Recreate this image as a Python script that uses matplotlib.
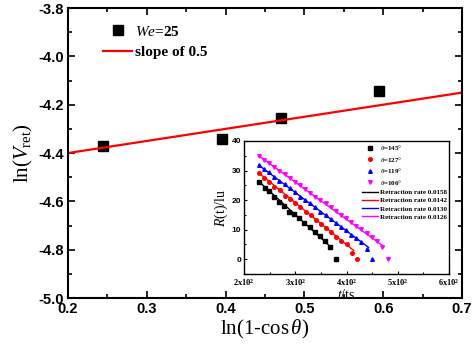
import matplotlib.pyplot as plt
import matplotlib.ticker as ticker

plt.rcParams["font.family"] = "Liberation Sans"
plt.rcParams["mathtext.fontset"] = "custom"
plt.rcParams["mathtext.rm"] = "Liberation Serif"
plt.rcParams["mathtext.it"] = "Liberation Serif:italic"
plt.rcParams["mathtext.bf"] = "Liberation Serif:bold"

# main panel: ln(V_ret) against ln(1 - cos theta)
x_pts = [0.245, 0.395, 0.470, 0.595]
y_pts = [-4.37, -4.34, -4.255, -4.145]
slope_x = [0.2, 0.7]
slope_y = [-4.40, -4.15]

# inset: R(t)/lu against t/ts for four contact angles
angles = ["145", "127", "119", "106"]
rates = [0.0158, 0.0142, 0.0130, 0.0126]
colors = ["black", "red", "blue", "magenta"]
markers = ["s", "o", "^", "v"]

t_145 = [229, 240, 249, 259, 268, 278, 288, 297, 307, 318, 328, 338, 348, 358, 368, 379]
r_145 = [26.0, 24.2, 23.2, 21.2, 19.2, 18.0, 16.1, 15.2, 13.9, 12.2, 11.0, 9.2, 8.0, 6.0, 4.1, 0]

t_127 = [229, 239, 249, 259, 270, 280, 290, 300, 310, 320, 330, 340, 350, 360, 370, 380,
         390, 400, 410, 420]
r_127 = [29.0, 27.4, 26.2, 24.6, 23.3, 21.5, 20.4, 19.0, 17.6, 16.1, 14.9, 13.2, 12.0, 10.4,
         9.2, 7.5, 6.2, 5.0, 2.2, 0]

t_119 = [229, 239, 249, 259, 269, 279, 289, 299, 309, 319, 329, 339, 349, 359, 369, 379,
         389, 399, 409, 419, 429, 439, 449]
r_119 = [32.0, 30.4, 29.4, 27.8, 26.6, 25.3, 24.0, 22.8, 21.2, 20.2, 18.9, 17.5, 16.1, 15.0,
         13.5, 12.3, 11.0, 9.8, 8.2, 7.1, 5.8, 3.6, 0]

t_106 = [229, 239, 249, 259, 269, 279, 289, 299, 309, 319, 329, 339, 349, 359, 369, 379,
         389, 399, 409, 419, 429, 439, 449, 459, 469, 480]
r_106 = [35.0, 33.6, 32.4, 31.2, 29.8, 28.8, 27.4, 26.2, 25.0, 23.8, 22.4, 21.2, 20.0, 18.9,
         17.6, 16.2, 15.1, 13.8, 12.6, 11.3, 10.1, 8.8, 7.6, 6.2, 4.0, 0]

t_data = [t_145, t_127, t_119, t_106]
r_data = [r_145, r_127, r_119, r_106]
fit_start = [26.3, 29.2, 31.8, 35.0]
fit_t = [(229, 372), (229, 414), (229, 443), (229, 473)]

fig = plt.figure(figsize=(4.74, 3.49), dpi=100)
ax = fig.add_axes([0.1435, 0.146, 0.831, 0.831])

ax.plot(x_pts, y_pts, "s", color="black", markersize=7.5, label=r"$\mathbf{\mathit{We}}$=25")
ax.plot(slope_x, slope_y, "-", color="red", linewidth=1.6, label="slope of 0.5")

ax.set_xlim(0.2, 0.7)
ax.set_ylim(-5.0, -3.8)
ax.xaxis.set_major_locator(ticker.MultipleLocator(0.1))
ax.xaxis.set_minor_locator(ticker.MultipleLocator(0.05))
ax.yaxis.set_major_locator(ticker.MultipleLocator(0.2))
ax.yaxis.set_minor_locator(ticker.MultipleLocator(0.1))
ax.xaxis.set_major_formatter(ticker.FormatStrFormatter("%.1f"))
ax.yaxis.set_major_formatter(ticker.FormatStrFormatter("%.1f"))
ax.tick_params(which="both", direction="in", top=True, right=True, width=1.2)
ax.tick_params(which="major", length=5, labelsize=10.5, pad=3)
ax.tick_params(which="minor", length=3)
for lab in ax.get_xticklabels() + ax.get_yticklabels():
    lab.set_fontweight("bold")
for sp in ax.spines.values():
    sp.set_linewidth(1.5)

ax.set_xlabel(r"$\mathrm{ln(1}$-$\mathrm{cos}\,\mathit{\theta})$", fontsize=15, labelpad=1)
ax.set_ylabel(r"$\mathrm{ln(}\mathit{V}_{\mathrm{ret}}\mathrm{)}$", fontsize=15, labelpad=2)

leg = ax.legend(loc="upper left", bbox_to_anchor=(0.055, 0.99), frameon=False,
                handlelength=1.9, handletextpad=0.15, labelspacing=0.45,
                prop={"family": "Liberation Serif", "weight": "bold", "size": 11})

# inset panel
ins = fig.add_axes([0.5148, 0.215, 0.4325, 0.381])
for i in range(4):
    ins.plot(t_data[i], r_data[i], markers[i], color=colors[i], markersize=2.6,
             linestyle="none", label=r"$\mathit{\theta}$=" + angles[i] + "°")
for i in range(4):
    t0, t1 = fit_t[i]
    ins.plot([t0, t1], [fit_start[i], fit_start[i] - rates[i] * 10 * (t1 - t0)],
             "-", color=colors[i], linewidth=1.0,
             label="Retraction rate %.4f" % rates[i])

ins.set_xlim(200, 600)
ins.set_ylim(-5, 40)
ins.xaxis.set_major_locator(ticker.MultipleLocator(100))
ins.xaxis.set_minor_locator(ticker.MultipleLocator(50))
ins.yaxis.set_major_locator(ticker.MultipleLocator(10))
ins.yaxis.set_minor_locator(ticker.MultipleLocator(5))
ins.set_yticks([0, 10, 20, 30, 40])
ins.xaxis.set_major_formatter(ticker.FuncFormatter(
    lambda v, p: r"$\mathbf{%dx10^2}$" % int(round(v / 100))))
ins.tick_params(which="both", direction="in", width=0.8, labelsize=6, pad=2)
ins.tick_params(which="major", length=2.5)
ins.tick_params(which="minor", length=1.5)
for lab in ins.get_yticklabels():
    lab.set_fontweight("bold")
for sp in ins.spines.values():
    sp.set_linewidth(1.0)

ins.set_xlabel(r"$\mathit{t}\mathrm{/ts}$", fontsize=10, labelpad=0)
ins.set_ylabel(r"$\mathit{R}\mathrm{(t)/lu}$", fontsize=10, labelpad=1)

ins.legend(loc="upper right", bbox_to_anchor=(1.0, 1.0), frameon=False,
           handlelength=2.4, handletextpad=0.2, labelspacing=0.35, borderaxespad=0.15,
           borderpad=0.2,
           prop={"family": "Liberation Serif", "weight": "bold", "size": 5})

fig.savefig("out.png", dpi=100)
